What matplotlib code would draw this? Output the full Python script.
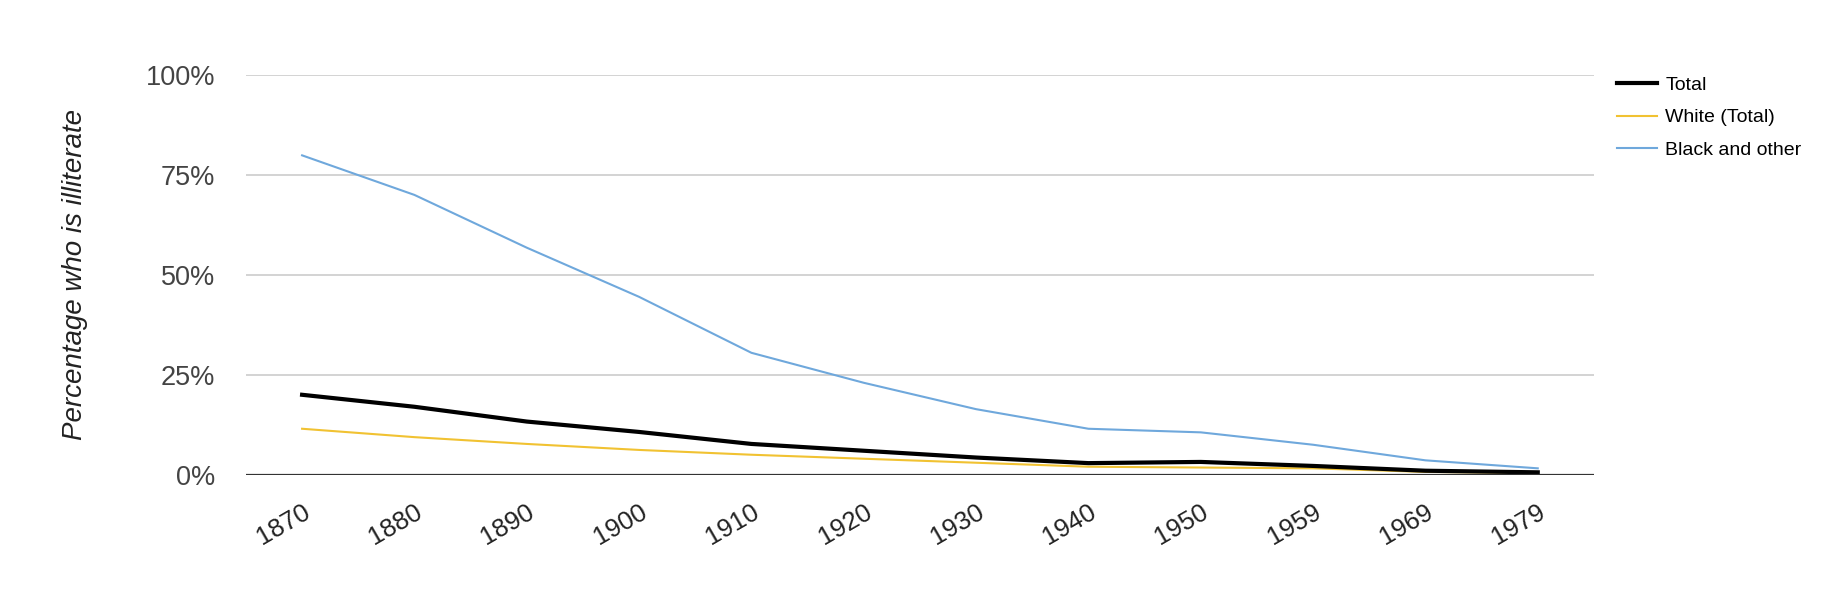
import matplotlib.pyplot as plt
from matplotlib.ticker import FuncFormatter
from matplotlib.transforms import ScaledTranslation

years = ['1870', '1880', '1890', '1900', '1910', '1920', '1930', '1940', '1950', '1959', '1969', '1979']
total = [20.0, 17.0, 13.3, 10.7, 7.7, 6.0, 4.3, 2.9, 3.2, 2.2, 1.0, 0.6]
white = [11.5, 9.4, 7.7, 6.2, 5.0, 4.0, 3.0, 2.0, 1.8, 1.6, 0.7, 0.4]
black_other = [79.9, 70.0, 56.8, 44.5, 30.5, 23.0, 16.4, 11.5, 10.6, 7.5, 3.6, 1.6]

plt.rcParams['font.family'] = ['Liberation Sans', 'DejaVu Sans']

fig = plt.figure(figsize=(18.38, 6), dpi=100)
ax = fig.add_axes([0.1338, 0.2088, 0.7334, 0.6662])

x = range(len(years))
ax.plot(x, black_other, color='#6fa8dc', lw=1.5, label='Black and other', zorder=3)
ax.plot(x, white, color='#f1c232', lw=1.5, label='White (Total)', zorder=4)
ax.plot(x, total, color='black', lw=3, label='Total', zorder=5)

ax.set_xlim(-0.5, len(years) - 0.5)
ax.set_ylim(0, 100)
ax.set_yticks([0, 25, 50, 75, 100])
ax.yaxis.set_major_formatter(FuncFormatter(lambda v, p: f'{v:.0f}%'))
ax.grid(axis='y', color='#cccccc', lw=1.2)
ax.set_axisbelow(True)
ax.axhline(0, color='#333333', lw=1.6, zorder=6)

for s in ax.spines.values():
    s.set_visible(False)
ax.tick_params(axis='both', length=0)
ax.tick_params(axis='y', labelsize=19.5, labelcolor='#444444', pad=22)

ax.set_xticks(list(x))
ax.set_xticklabels(years, rotation=30, ha='right', rotation_mode='anchor',
                   fontsize=18.5, color='#222222')
ax.tick_params(axis='x', pad=18)

ax.set_ylabel('Percentage who is illiterate', fontsize=20, style='italic',
              color='#222222', labelpad=42)

handles, labels = ax.get_legend_handles_labels()
order = [2, 1, 0]
ax.legend([handles[i] for i in order], [labels[i] for i in order],
          loc='upper left', bbox_to_anchor=(1.004, 1.04), frameon=False,
          fontsize=14, handlelength=2.05, handletextpad=0.45, labelspacing=0.75)

fig.savefig('out.png', dpi=100)
